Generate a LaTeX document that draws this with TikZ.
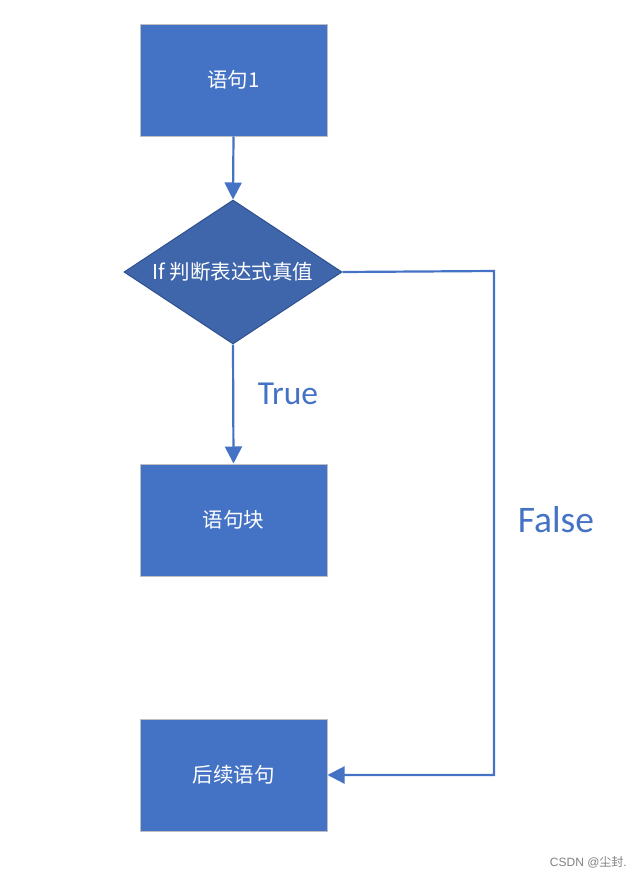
\documentclass[tikz,border=0pt]{standalone}
\usepackage{fontspec}
\setmainfont{Carlito}
\newfontfamily\cjk{Noto Sans CJK SC}
\newfontfamily\wmfont{Liberation Sans}
\usetikzlibrary{shapes.geometric,arrows.meta}
\definecolor{boxblue}{HTML}{4472C4}
\definecolor{diafill}{HTML}{3F65AB}
\definecolor{diaedge}{HTML}{2F528F}
\definecolor{boxedge}{HTML}{BFBFBF}
\tikzset{
  stepbox/.style={draw=boxedge, line width=1pt, fill=boxblue, minimum width=187pt, minimum height=112pt, inner sep=0pt, text=white, font=\cjk\fontsize{20.5}{24}\selectfont},
  decision/.style={diamond, draw=diaedge, line width=1pt, fill=diafill, minimum width=218pt, minimum height=144pt, inner sep=0pt, aspect=1.51, text=white, font=\cjk\fontsize{20.5}{24}\selectfont},
  flow/.style={draw=boxblue, line width=2.2pt, -{Triangle[length=17pt,width=17pt]}},
  lbl/.style={text=boxblue, inner sep=0pt}
}
\begin{document}
\begin{tikzpicture}[x=1pt,y=-1pt]
\useasboundingbox (0,0) rectangle (641,878);
\node[stepbox] (s1) at (233.5,80) {语句1};
\node[decision] (d) at (233,272) {If 判断表达式真值};
\node[stepbox] (s2) at (233.5,520) {语句块};
\node[stepbox] (s3) at (233.5,775) {后续语句};
\coordinate (c1) at (494,271);
\coordinate (c2) at (494,775);
\draw[flow] (s1.south) -- (d.north);
\draw[flow] (d.south) -- (s2.north);
\draw[flow] (d.east) -- (c1) -- (c2) -- (s3.east);
\node[lbl, font=\fontsize{33.5}{38}\selectfont] (t) at (288,394) {True};
\node[lbl, font=\fontsize{37.5}{42}\selectfont] (f) at (556,520) {False};
\node[text=gray, inner sep=0pt, font=\wmfont\fontsize{12}{14}\selectfont, anchor=east] (w) at (627,862) {CSDN @{\cjk 尘封}.};
\end{tikzpicture}
\end{document}
